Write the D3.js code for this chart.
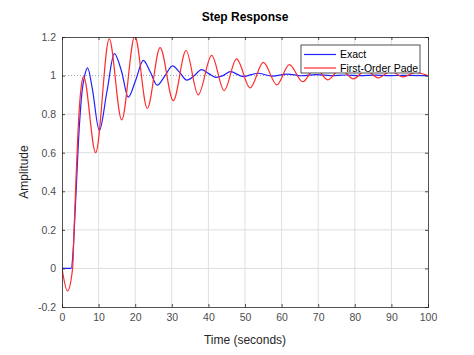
<!DOCTYPE html>
<html><head><meta charset="utf-8">
<script src="https://cdn.jsdelivr.net/npm/d3@7"></script>
<style>body{margin:0;background:#fff}svg{display:block}text{font-family:"Liberation Sans",Arial,Helvetica,sans-serif}</style>
</head><body><svg id="c" width="474" height="355"></svg>
<script>
const xTicks = [0,10,20,30,40,50,60,70,80,90,100];
const yTicks = [-0.2,0,0.2,0.4,0.6,0.8,1,1.2];
const seriesNames = ["Exact","First-Order Pade"];
const exactT = [0,2.5,3.0,3.5,4.0,4.5,5.0,5.5,6.2,7.0,8.3,10.2,12.3,14.3,16.3,18.1,20.2,22.2,24.1,26.0,28.1,30.2,32.2,34.1,36.2,38.1,40.1,42.0,44.0,46.0,49.5,53.5,57.5,61.5,65.5,69.5,73.5,77.5,81.5,85.5,89.5,93.5,100];
const exactY = [0,0,0.08,0.26,0.46,0.66,0.81,0.92,1.0,1.04,0.93,0.715,0.92,1.114,1.02,0.888,0.98,1.079,1.02,0.95,0.998,1.05,1.015,0.976,1.0,1.031,1.01,0.991,1.0,1.02,0.995,1.012,0.997,1.008,0.999,1.005,1.0,1.003,1.0,1.002,1.0,1.001,1.0];
const padeT = [0,1.5,2.9,3.3,3.8,4.3,4.8,5.3,5.9,9.2,12.9,16.3,19.9,23.3,26.8,30.4,33.9,37.2,40.9,44.3,47.7,51.4,55.0,58.7,62.1,65.8,69.2,72.6,76.1,79.6,83.0,86.4,89.8,93.2,96.6,100];
const padeY = [0,-0.117,0,0.2,0.45,0.68,0.85,0.95,0.995,0.60,1.19,0.77,1.205,0.83,1.145,0.87,1.13,0.90,1.105,0.922,1.087,0.936,1.068,0.952,1.057,0.968,1.042,0.978,1.035,0.983,1.028,0.988,1.022,0.993,1.016,1.0];

const svg = d3.select("#c");
const L=62,R=428,T=37,B=307;
const x = d3.scaleLinear().domain([0,100]).range([L,R]);
const y = d3.scaleLinear().domain([-0.2,1.2]).range([B,T]);
const axisCol="#262626", lab="#4d4d4d";

// grid
const g = svg.append("g");
g.selectAll(".gx").data(xTicks.slice(1,-1)).join("line")
  .attr("x1",d=>x(d)).attr("x2",d=>x(d)).attr("y1",T).attr("y2",B)
  .attr("stroke","#dfdfdf").attr("stroke-width",1);
g.selectAll(".gy").data(yTicks.slice(1,-1).filter(d=>d!==1)).join("line")
  .attr("y1",d=>y(d)).attr("y2",d=>y(d)).attr("x1",L).attr("x2",R)
  .attr("stroke","#dfdfdf").attr("stroke-width",1);
// steady-state dotted line
g.append("line").attr("x1",L).attr("x2",R).attr("y1",y(1)).attr("y2",y(1))
  .attr("stroke","#a0a0a0").attr("stroke-width",1).attr("stroke-dasharray","1,2");

// clip
svg.append("clipPath").attr("id","clip").append("rect").attr("x",L).attr("y",T).attr("width",R-L).attr("height",B-T);

const line = d3.line().x(d=>x(d[0])).y(d=>y(d[1])).curve(d3.curveMonotoneX);
const exact = exactT.map((t,i)=>[t,exactY[i]]);
const pade = padeT.map((t,i)=>[t,padeY[i]]);
const plot = svg.append("g").attr("clip-path","url(#clip)");
plot.append("path").datum(exact).attr("d",line).attr("fill","none").attr("stroke","#2020ff").attr("stroke-width",1.2);
plot.append("path").datum(pade).attr("d",line).attr("fill","none").attr("stroke","#ff2a2a").attr("stroke-width",1.2);

// axes
const xa = svg.append("g").attr("transform",`translate(0,${B})`)
  .call(d3.axisBottom(x).tickValues(xTicks).tickSize(-3).tickPadding(7).tickFormat(d3.format("d")));
const xt = svg.append("g").attr("transform",`translate(0,${T})`)
  .call(d3.axisTop(x).tickValues(xTicks).tickSize(-3).tickFormat(""));
const ya = svg.append("g").attr("transform",`translate(${L},0)`)
  .call(d3.axisLeft(y).tickValues(yTicks).tickSize(-3).tickPadding(6).tickFormat(d=>d3.format("")(+d.toFixed(1))));
const yr = svg.append("g").attr("transform",`translate(${R},0)`)
  .call(d3.axisRight(y).tickValues(yTicks).tickSize(-3).tickFormat(""));
[xa,xt,ya,yr].forEach(a=>{
  a.selectAll("path").attr("stroke",axisCol).attr("stroke-width",0.8);
  a.selectAll("line").attr("stroke",axisCol).attr("stroke-width",0.8);
  a.selectAll("text").attr("fill",lab).style("font-size","10.5px");
});
ya.selectAll("text").text(d=>d===0?"0":String(+d.toFixed(1)));

// labels
svg.append("text").attr("x",245).attr("y",21).attr("text-anchor","middle")
  .style("font-size","12px").style("font-weight","bold").attr("fill","#000").text("Step Response");
svg.append("text").attr("x",245).attr("y",344).attr("text-anchor","middle")
  .style("font-size","12px").attr("fill","#262626").text("Time (seconds)");
svg.append("text").attr("transform",`translate(28,${(T+B)/2}) rotate(-90)`).attr("text-anchor","middle")
  .style("font-size","12px").attr("fill","#262626").text("Amplitude");

// legend
const lg = svg.append("g");
lg.append("rect").attr("x",301).attr("y",45).attr("width",119).attr("height",28)
  .attr("fill","#fff").attr("stroke","#262626").attr("stroke-width",0.8);
const cols=["#2020ff","#ff2a2a"];
seriesNames.forEach((n,i)=>{
  const yy = 54.5 + i*13.5;
  lg.append("line").attr("x1",304).attr("x2",336).attr("y1",yy).attr("y2",yy).attr("stroke",cols[i]).attr("stroke-width",1.2);
  lg.append("text").attr("x",340).attr("y",yy+3.5).style("font-size","10.5px").attr("fill","#000").text(n);
});
</script></body></html>
